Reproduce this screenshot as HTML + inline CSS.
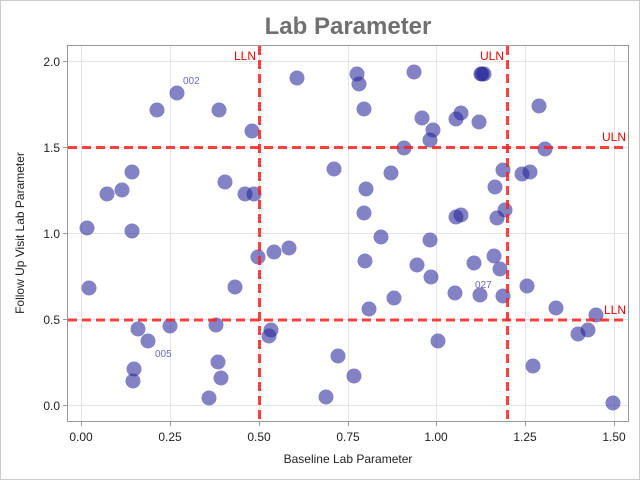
<!DOCTYPE html><html><head><style>body{margin:0;background:#fff}svg{display:block;font-family:"Liberation Sans",sans-serif}</style></head><body>
<svg width="640" height="480" viewBox="0 0 640 480">
<rect x="0.5" y="0.5" width="639" height="479" fill="#fff" stroke="#ccc"/>
<text x="348" y="34" text-anchor="middle" font-size="24" font-weight="bold" fill="#707070">Lab Parameter</text>
<g stroke="#e4e4e4" stroke-width="1">
<line x1="81.5" y1="46" x2="81.5" y2="421"/><line x1="170.5" y1="46" x2="170.5" y2="421"/><line x1="259.5" y1="46" x2="259.5" y2="421"/><line x1="348.5" y1="46" x2="348.5" y2="421"/><line x1="436.5" y1="46" x2="436.5" y2="421"/><line x1="525.5" y1="46" x2="525.5" y2="421"/><line x1="614.5" y1="46" x2="614.5" y2="421"/>
<line x1="68" y1="61.5" x2="628" y2="61.5"/><line x1="68" y1="147.5" x2="628" y2="147.5"/><line x1="68" y1="233.5" x2="628" y2="233.5"/><line x1="68" y1="319.5" x2="628" y2="319.5"/><line x1="68" y1="405.5" x2="628" y2="405.5"/>
</g>
<rect x="67.5" y="45.5" width="561" height="376" fill="none" stroke="#999"/>
<g stroke="#999"><line x1="81.5" y1="422" x2="81.5" y2="426"/><line x1="170.5" y1="422" x2="170.5" y2="426"/><line x1="259.5" y1="422" x2="259.5" y2="426"/><line x1="348.5" y1="422" x2="348.5" y2="426"/><line x1="436.5" y1="422" x2="436.5" y2="426"/><line x1="525.5" y1="422" x2="525.5" y2="426"/><line x1="614.5" y1="422" x2="614.5" y2="426"/>
<line x1="63" y1="61.5" x2="67" y2="61.5"/><line x1="63" y1="147.5" x2="67" y2="147.5"/><line x1="63" y1="233.5" x2="67" y2="233.5"/><line x1="63" y1="319.5" x2="67" y2="319.5"/><line x1="63" y1="405.5" x2="67" y2="405.5"/></g>
<g font-size="12" fill="#222" text-anchor="middle"><text x="81" y="441">0.00</text><text x="170" y="441">0.25</text><text x="259" y="441">0.50</text><text x="348" y="441">0.75</text><text x="436" y="441">1.00</text><text x="525" y="441">1.25</text><text x="614" y="441">1.50</text></g>
<g font-size="12" fill="#222" text-anchor="end"><text x="60" y="66">2.0</text><text x="60" y="152">1.5</text><text x="60" y="238">1.0</text><text x="60" y="324">0.5</text><text x="60" y="410">0.0</text></g>
<text x="348" y="463" font-size="12" text-anchor="middle" fill="#222">Baseline Lab Parameter</text>
<text transform="translate(24,233) rotate(-90)" font-size="12" text-anchor="middle" fill="#222">Follow Up Visit Lab Parameter</text>
<g fill="#27279a" fill-opacity="0.58">
<circle cx="87" cy="228" r="7.5"/><circle cx="89" cy="288" r="7.5"/><circle cx="107" cy="194" r="7.5"/><circle cx="122" cy="190" r="7.5"/><circle cx="132" cy="172" r="7.5"/><circle cx="132" cy="231" r="7.5"/><circle cx="157" cy="110" r="7.5"/><circle cx="177" cy="93" r="7.5"/><circle cx="219" cy="110" r="7.5"/><circle cx="225" cy="182" r="7.5"/><circle cx="245" cy="194" r="7.5"/><circle cx="252" cy="131" r="7.5"/><circle cx="254" cy="194" r="7.5"/><circle cx="297" cy="78" r="7.5"/>
<circle cx="216" cy="325" r="7.5"/><circle cx="170" cy="326" r="7.5"/><circle cx="138" cy="329" r="7.5"/><circle cx="148" cy="341" r="7.5"/><circle cx="134" cy="369" r="7.5"/><circle cx="133" cy="381" r="7.5"/><circle cx="209" cy="398" r="7.5"/><circle cx="218" cy="362" r="7.5"/><circle cx="221" cy="378" r="7.5"/><circle cx="235" cy="287" r="7.5"/><circle cx="258" cy="257" r="7.5"/><circle cx="274" cy="252" r="7.5"/><circle cx="289" cy="248" r="7.5"/><circle cx="271" cy="330" r="7.5"/><circle cx="269" cy="336" r="7.5"/>
<circle cx="334" cy="169" r="7.5"/><circle cx="326" cy="397" r="7.5"/><circle cx="338" cy="356" r="7.5"/><circle cx="354" cy="376" r="7.5"/><circle cx="357" cy="74" r="7.5"/><circle cx="359" cy="84" r="7.5"/><circle cx="364" cy="109" r="7.5"/><circle cx="365" cy="261" r="7.5"/><circle cx="364" cy="213" r="7.5"/><circle cx="366" cy="189" r="7.5"/><circle cx="381" cy="237" r="7.5"/><circle cx="391" cy="173" r="7.5"/><circle cx="394" cy="298" r="7.5"/><circle cx="369" cy="309" r="7.5"/><circle cx="404" cy="148" r="7.5"/><circle cx="414" cy="72" r="7.5"/><circle cx="417" cy="265" r="7.5"/><circle cx="422" cy="118" r="7.5"/><circle cx="430" cy="140" r="7.5"/><circle cx="433" cy="130" r="7.5"/><circle cx="430" cy="240" r="7.5"/><circle cx="431" cy="277" r="7.5"/><circle cx="438" cy="341" r="7.5"/>
<circle cx="455" cy="293" r="7.5"/><circle cx="456" cy="119" r="7.5"/><circle cx="461" cy="113" r="7.5"/><circle cx="456" cy="217" r="7.5"/><circle cx="461" cy="215" r="7.5"/><circle cx="474" cy="263" r="7.5"/><circle cx="479" cy="122" r="7.5"/><circle cx="480" cy="295" r="7.5"/><circle cx="481" cy="74" r="7.5"/><circle cx="484" cy="74" r="7.5"/><circle cx="482" cy="74" r="7.5"/>
<circle cx="494" cy="256" r="7.5"/><circle cx="495" cy="187" r="7.5"/><circle cx="497" cy="218" r="7.5"/><circle cx="500" cy="269" r="7.5"/><circle cx="503" cy="296" r="7.5"/><circle cx="503" cy="170" r="7.5"/><circle cx="505" cy="210" r="7.5"/><circle cx="527" cy="286" r="7.5"/><circle cx="539" cy="106" r="7.5"/><circle cx="545" cy="149" r="7.5"/><circle cx="522" cy="174" r="7.5"/><circle cx="530" cy="172" r="7.5"/><circle cx="533" cy="366" r="7.5"/><circle cx="556" cy="308" r="7.5"/><circle cx="578" cy="334" r="7.5"/><circle cx="588" cy="330" r="7.5"/><circle cx="596" cy="315" r="7.5"/><circle cx="613" cy="403" r="7.5"/>
</g>
<g font-size="10" fill="#6a6acc"><text x="183" y="84">002</text><text x="155" y="357">005</text><text x="475" y="288">027</text></g>
<g stroke="#ff2020" stroke-opacity="0.85" stroke-width="3" stroke-dasharray="9,5" fill="none">
<line x1="259.5" y1="46" x2="259.5" y2="421"/><line x1="507.5" y1="46" x2="507.5" y2="421"/>
<line x1="68" y1="147.5" x2="628" y2="147.5"/><line x1="68" y1="320" x2="628" y2="320"/>
</g>
<g font-size="12" fill="#ee0000"><text x="256" y="60" text-anchor="end">LLN</text><text x="504" y="60" text-anchor="end">ULN</text><text x="626" y="141" text-anchor="end">ULN</text><text x="626" y="314" text-anchor="end">LLN</text></g>
</svg></body></html>
